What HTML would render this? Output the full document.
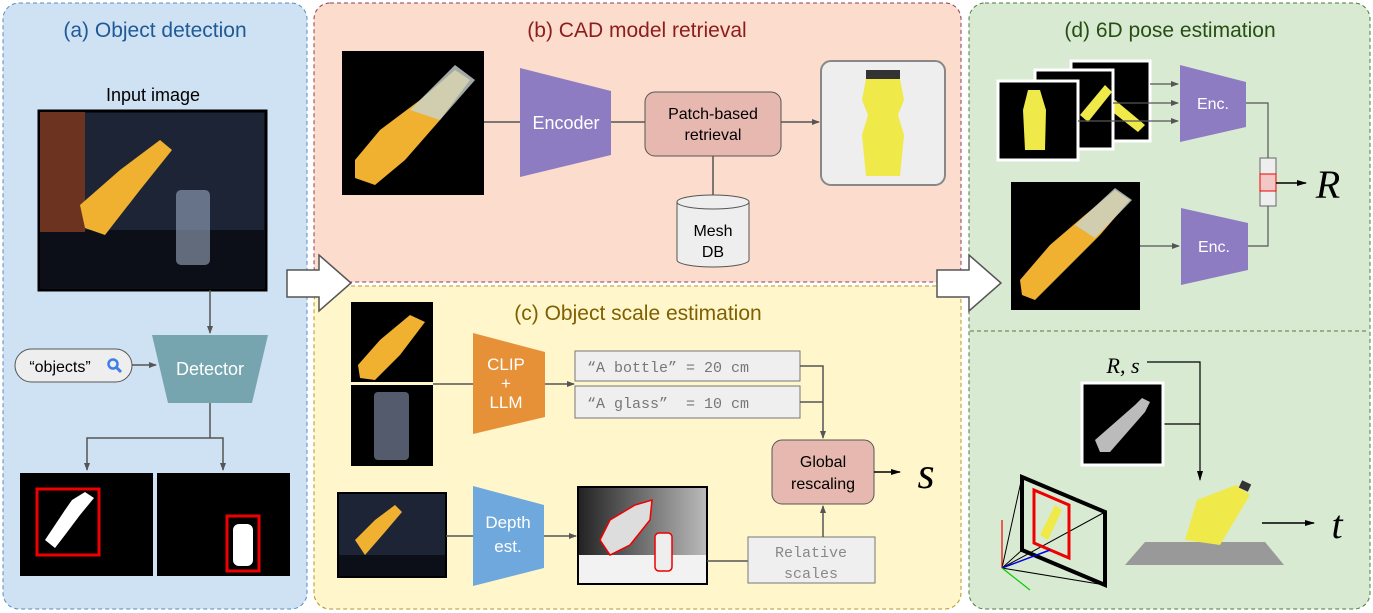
<!DOCTYPE html>
<html><head><meta charset="utf-8"><style>
html,body{margin:0;padding:0;background:#fff;}
svg{display:block;font-family:"Liberation Sans",sans-serif;}
.m{font-family:"Liberation Mono",monospace;}
.s{font-family:"Liberation Serif",serif;font-style:italic;}
</style></head><body>
<svg width="1373" height="613" viewBox="0 0 1373 613" xmlns="http://www.w3.org/2000/svg">
<defs>
<marker id="a" markerWidth="8" markerHeight="8" refX="7" refY="4" orient="auto" markerUnits="userSpaceOnUse"><path d="M0,1 L8,4 L0,7z" fill="#555"/></marker>
<marker id="k" markerWidth="10" markerHeight="8" refX="9" refY="4" orient="auto" markerUnits="userSpaceOnUse"><path d="M0,1 L10,4 L0,7z" fill="#000"/></marker>
<linearGradient id="dg" x1="0" y1="0" x2="1" y2="0"><stop offset="0" stop-color="#222"/><stop offset="1" stop-color="#bbb"/></linearGradient>
</defs>
<rect x="3" y="3" width="304" height="606" rx="16" fill="#cfe2f3" stroke="#5b8bc0" stroke-dasharray="4,3"/>
<rect x="314" y="3" width="647" height="279" rx="16" fill="#fcdccc" stroke="#8e3b5a" stroke-dasharray="4,3"/>
<rect x="314" y="286" width="647" height="323" rx="16" fill="#fff6cc" stroke="#b8941c" stroke-dasharray="4,3"/>
<rect x="969" y="3" width="401" height="606" rx="16" fill="#d9ead3" stroke="#4d7a3e" stroke-dasharray="4,3"/>
<line x1="970" y1="331" x2="1369" y2="331" stroke="#4d7a3e" stroke-dasharray="4,3"/>
<text x="155" y="37" text-anchor="middle" font-size="21" fill="#1f5a96">(a) Object detection</text>
<text x="637" y="37" text-anchor="middle" font-size="21" fill="#8c1d1d">(b) CAD model retrieval</text>
<text x="638" y="320" text-anchor="middle" font-size="21" fill="#7f6000">(c) Object scale estimation</text>
<text x="1170" y="37" text-anchor="middle" font-size="21" fill="#274e13">(d) 6D pose estimation</text>

<text x="153" y="101" text-anchor="middle" font-size="18" fill="#000">Input image</text>
<rect x="39" y="111" width="227" height="179" fill="#1c2436" stroke="#000" stroke-width="3"/>
<rect x="40" y="230" width="225" height="58" fill="#0d0f18"/>
<rect x="40" y="112" width="45" height="120" fill="#6b3320"/>
<path d="M80,205 L120,170 L160,140 L172,150 L140,190 L105,235 L85,228z" fill="#f0b030"/>
<rect x="176" y="190" width="34" height="75" rx="5" fill="#9aa8c0" opacity="0.6"/>
<line x1="210" y1="290" x2="210" y2="333" stroke="#555" stroke-width="1.5" marker-end="url(#a)"/>
<path d="M152,335 L268,335 L252,403 L168,403z" fill="#76a5af"/>
<text x="210" y="375" text-anchor="middle" font-size="18" fill="#fff">Detector</text>
<rect x="15" y="349" width="117" height="33" rx="16.5" fill="#eee" stroke="#555"/>
<text x="60" y="372" text-anchor="middle" font-size="16" fill="#000">“objects”</text>
<circle cx="113" cy="364" r="4.5" fill="none" stroke="#3f7ee8" stroke-width="2.5"/>
<line x1="116" y1="367" x2="121" y2="372" stroke="#3f7ee8" stroke-width="3"/>
<line x1="132" y1="365" x2="156" y2="365" stroke="#555" stroke-width="1.5" marker-end="url(#a)"/>
<polyline points="210,403 210,438 87,438 87,470" fill="none" stroke="#555" stroke-width="1.5" marker-end="url(#a)"/>
<polyline points="210,438 223,438 223,470" fill="none" stroke="#555" stroke-width="1.5" marker-end="url(#a)"/>
<rect x="20" y="473" width="133" height="103" fill="#000"/>
<rect x="157" y="473" width="133" height="103" fill="#000"/>
<rect x="37" y="489" width="62" height="66" fill="none" stroke="#e00" stroke-width="3"/>
<path d="M45,540 L55,525 L65,510 L72,500 L85,492 L94,498 L80,515 L65,535 L55,548z" fill="#fff"/>
<rect x="227" y="516" width="32" height="55" fill="none" stroke="#e00" stroke-width="3"/>
<rect x="233" y="524" width="20" height="42" rx="6" fill="#fff"/>

<path d="M287,270 L319,270 L319,255 L351,283 L319,311 L319,297 L287,297z" fill="#fff" stroke="#555" stroke-width="1.5"/>
<path d="M937,270 L969,270 L969,255 L1001,283 L969,311 L969,297 L937,297z" fill="#fff" stroke="#555" stroke-width="1.5"/>

<rect x="342" y="51" width="142" height="144" fill="#000"/>
<path d="M355,160 L380,130 L420,100 L455,70 L470,80 L440,120 L405,160 L375,185 L355,178z" fill="#f0b030"/>
<path d="M410,110 L455,65 L475,80 L440,120z" fill="#c9d4cf" opacity="0.8"/>
<line x1="484" y1="122" x2="520" y2="122" stroke="#555" stroke-width="1.5"/>
<path d="M520,68 L611,91 L611,155 L520,177z" fill="#8e7cc3"/>
<text x="566" y="129" text-anchor="middle" font-size="18" fill="#fff">Encoder</text>
<line x1="611" y1="122" x2="645" y2="122" stroke="#555" stroke-width="1.5"/>
<rect x="645" y="92" width="136" height="64" rx="10" fill="#e6b8af" stroke="#555"/>
<text x="713" y="119" text-anchor="middle" font-size="16" fill="#000">Patch-based</text>
<text x="713" y="140" text-anchor="middle" font-size="16" fill="#000">retrieval</text>
<line x1="781" y1="122" x2="819" y2="122" stroke="#555" stroke-width="1.5" marker-end="url(#a)"/>
<line x1="713" y1="156" x2="713" y2="195" stroke="#555" stroke-width="1.5"/>
<path d="M677,202 L677,260 A36,7 0 0 0 749,260 L749,202" fill="#eee" stroke="#555"/>
<ellipse cx="713" cy="202" rx="36" ry="7" fill="#eee" stroke="#555"/>
<text x="713" y="236" text-anchor="middle" font-size="16">Mesh</text>
<text x="713" y="257" text-anchor="middle" font-size="16">DB</text>
<rect x="821" y="61" width="124" height="124" rx="10" fill="#eeeeee" stroke="#888" stroke-width="2"/>
<rect x="866" y="70" width="34" height="9" fill="#333"/>
<path d="M866,79 L900,79 L904,100 L898,115 L904,135 L900,176 L866,176 L862,135 L868,115 L862,100z" fill="#efe94a"/>

<rect x="351" y="302" width="82" height="80" fill="#000"/>
<path d="M358,365 L380,340 L410,315 L425,322 L400,355 L375,380 L360,378z" fill="#f0b030"/>
<rect x="351" y="385" width="82" height="81" fill="#000"/>
<rect x="374" y="392" width="35" height="68" rx="4" fill="#8a98b4" opacity="0.6"/>
<line x1="433" y1="384" x2="473" y2="384" stroke="#555" stroke-width="1.5"/>
<path d="M473,333 L545,352 L545,417 L473,434z" fill="#e69138"/>
<text x="506" y="370" text-anchor="middle" font-size="17" fill="#fff">CLIP</text>
<text x="506" y="389" text-anchor="middle" font-size="17" fill="#fff">+</text>
<text x="506" y="408" text-anchor="middle" font-size="17" fill="#fff">LLM</text>
<line x1="545" y1="384" x2="574" y2="384" stroke="#555" stroke-width="1.5" marker-end="url(#a)"/>
<rect x="575" y="351" width="225" height="30" fill="#efefef" stroke="#777"/>
<rect x="575" y="386" width="225" height="32" fill="#efefef" stroke="#777"/>
<text x="587" y="372" class="m" font-size="15" fill="#777" xml:space="preserve">“A bottle” = 20 cm</text>
<text x="587" y="408" class="m" font-size="15" fill="#777" xml:space="preserve">“A glass”  = 10 cm</text>
<polyline points="800,366 823,366 823,438" fill="none" stroke="#555" stroke-width="1.5" marker-end="url(#a)"/>
<line x1="800" y1="402" x2="823" y2="402" stroke="#555" stroke-width="1.5"/>
<rect x="772" y="440" width="102" height="64" rx="10" fill="#e6b8af" stroke="#555"/>
<text x="823" y="467" text-anchor="middle" font-size="16">Global</text>
<text x="823" y="489" text-anchor="middle" font-size="16">rescaling</text>
<line x1="874" y1="472" x2="900" y2="472" stroke="#000" stroke-width="1.5" marker-end="url(#k)"/>
<text x="926" y="488" text-anchor="middle" class="s" font-size="44">s</text>
<rect x="338" y="493" width="108" height="84" fill="#1c2436" stroke="#000" stroke-width="2"/>
<rect x="339" y="555" width="106" height="21" fill="#0d0f18"/>
<path d="M355,540 L375,520 L395,505 L402,512 L385,532 L365,555z" fill="#f0b030"/>
<line x1="446" y1="536" x2="473" y2="536" stroke="#555" stroke-width="1.5"/>
<path d="M473,486 L544,505 L544,568 L473,586z" fill="#6fa8dc"/>
<text x="508" y="528" text-anchor="middle" font-size="17" fill="#fff">Depth</text>
<text x="508" y="552" text-anchor="middle" font-size="17" fill="#fff">est.</text>
<line x1="544" y1="536" x2="576" y2="536" stroke="#555" stroke-width="1.5" marker-end="url(#a)"/>
<rect x="578" y="487" width="129" height="97" fill="url(#dg)" stroke="#000" stroke-width="2"/>
<rect x="579" y="555" width="127" height="28" fill="#f2f2f2"/>
<path d="M600,540 L610,520 L635,505 L652,500 L650,520 L630,545 L610,555z" fill="#ddd" stroke="#e00" stroke-width="1.5"/>
<rect x="655" y="533" width="17" height="38" rx="4" fill="#eee" stroke="#e00" stroke-width="1.5"/>
<line x1="707" y1="561" x2="748" y2="561" stroke="#555" stroke-width="1.5"/>
<rect x="748" y="537" width="127" height="46" fill="#efefef" stroke="#777"/>
<text x="811" y="557" text-anchor="middle" class="m" font-size="15" fill="#888">Relative</text>
<text x="811" y="578" text-anchor="middle" class="m" font-size="15" fill="#888">scales</text>
<line x1="823" y1="537" x2="823" y2="506" stroke="#555" stroke-width="1.5" marker-end="url(#a)"/>

<rect x="1071" y="61" width="79" height="80" fill="#000" stroke="#fff" stroke-width="3"/>
<path d="M1115,100 L1145,125 L1138,132 L1110,110z" fill="#efe94a"/>
<rect x="1035" y="70" width="78" height="79" fill="#000" stroke="#fff" stroke-width="3"/>
<path d="M1080,115 L1105,85 L1112,92 L1088,122z" fill="#efe94a"/>
<rect x="998" y="81" width="80" height="79" fill="#000" stroke="#fff" stroke-width="3"/>
<path d="M1028,90 L1040,90 L1046,110 L1045,150 L1025,150 L1023,110z" fill="#efe94a"/>
<line x1="1150" y1="84" x2="1178" y2="84" stroke="#555" stroke-width="1.2" marker-end="url(#a)"/>
<line x1="1113" y1="103" x2="1178" y2="103" stroke="#555" stroke-width="1.2" marker-end="url(#a)"/>
<line x1="1078" y1="121" x2="1178" y2="121" stroke="#555" stroke-width="1.2" marker-end="url(#a)"/>
<path d="M1180,65 L1246,82 L1246,127 L1180,142z" fill="#8e7cc3"/>
<text x="1213" y="109" text-anchor="middle" font-size="16" fill="#fff">Enc.</text>
<rect x="1011" y="182" width="129" height="128" fill="#000"/>
<path d="M1020,280 L1050,245 L1085,215 L1115,190 L1130,200 L1100,235 L1065,270 L1035,300 L1022,295z" fill="#f0b030"/>
<path d="M1075,225 L1115,188 L1132,200 L1095,238z" fill="#c9d4cf" opacity="0.8"/>
<line x1="1140" y1="246" x2="1179" y2="246" stroke="#555" stroke-width="1.2" marker-end="url(#a)"/>
<path d="M1181,208 L1248,223 L1248,270 L1181,285z" fill="#8e7cc3"/>
<text x="1214" y="252" text-anchor="middle" font-size="16" fill="#fff">Enc.</text>
<polyline points="1246,103 1268,103 1268,158" fill="none" stroke="#555" stroke-width="1.2"/>
<polyline points="1248,246 1268,246 1268,206" fill="none" stroke="#555" stroke-width="1.2"/>
<rect x="1260" y="158" width="16" height="48" fill="#eee" stroke="#666"/>
<rect x="1260" y="174" width="16" height="17" fill="#f4c7c7" stroke="#e00"/>
<line x1="1276" y1="183" x2="1306" y2="183" stroke="#000" stroke-width="1.5" marker-end="url(#k)"/>
<text x="1328" y="198" text-anchor="middle" class="s" font-size="40">R</text>

<text x="1123" y="373" text-anchor="middle" class="s" font-size="22">R, s</text>
<polyline points="1147,362 1200,362 1200,480" fill="none" stroke="#000" stroke-width="1.2" marker-end="url(#k)"/>
<line x1="1163" y1="424" x2="1200" y2="424" stroke="#000" stroke-width="1.2"/>
<rect x="1082" y="383" width="81" height="82" fill="#000" stroke="#fff" stroke-width="3"/>
<path d="M1095,440 L1135,405 L1142,398 L1150,402 L1145,412 L1110,452 L1100,452z" fill="#bbb"/>
<path d="M1145,542 L1265,542 L1284,565 L1125,565z" fill="#999"/>
<path d="M1197,500 L1236,485 L1250,495 L1220,545 L1185,540z" fill="#efe94a"/>
<rect x="1240" y="482" width="10" height="8" fill="#333" transform="rotate(25 1245 486)"/>
<line x1="1262" y1="523" x2="1314" y2="523" stroke="#000" stroke-width="1.5" marker-end="url(#k)"/>
<text x="1337" y="538" text-anchor="middle" class="s" font-size="40">t</text>
<g fill="none" stroke="#000">
<path d="M1022,477 L1105,512 L1105,585 L1022,550z" stroke-width="4"/>
<line x1="1002" y1="568" x2="1022" y2="477"/>
<line x1="1002" y1="568" x2="1105" y2="512"/>
<line x1="1002" y1="568" x2="1105" y2="585"/>
<line x1="1002" y1="568" x2="1022" y2="550"/>
</g>
<path d="M1034,490 L1069,505 L1069,558 L1034,543z" fill="none" stroke="#e00" stroke-width="3"/>
<path d="M1040,535 L1055,505 L1062,510 L1048,540z" fill="#efe94a"/>
<line x1="1002" y1="568" x2="1002" y2="520" stroke="#e00" stroke-width="1.2"/>
<line x1="1002" y1="568" x2="1050" y2="550" stroke="#00d" stroke-width="1.5"/>
<line x1="1002" y1="568" x2="1030" y2="590" stroke="#0c0" stroke-width="1.2"/>
</svg>
</body></html>
